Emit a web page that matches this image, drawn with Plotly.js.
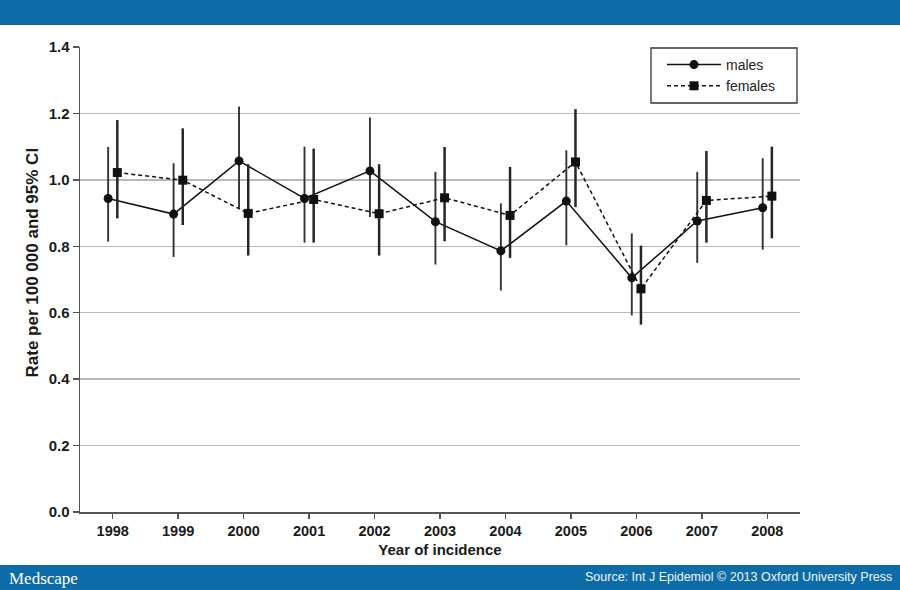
<!DOCTYPE html>
<html>
<head>
<meta charset="utf-8">
<script src="https://cdn.plot.ly/plotly-3.0.1.min.js"></script>
<style>
  html, body { margin: 0; padding: 0; background: #ffffff; }
  #chart { width: 900px; height: 590px; }
</style>
</head>
<body>
<div id="chart"></div>
<script>
// Incidence rate per 100 000 with 95% confidence limits, by year and sex
const years = [1998, 1999, 2000, 2001, 2002, 2003, 2004, 2005, 2006, 2007, 2008];

const maleRate = [0.944, 0.897, 1.057, 0.944, 1.027, 0.874, 0.786, 0.936, 0.705, 0.876, 0.916];
const maleLow  = [0.814, 0.768, 0.914, 0.811, 0.888, 0.745, 0.667, 0.803, 0.592, 0.750, 0.790];
const maleHigh = [1.099, 1.050, 1.221, 1.100, 1.188, 1.024, 0.929, 1.089, 0.839, 1.024, 1.065];

const femaleRate = [1.022, 0.999, 0.899, 0.941, 0.898, 0.946, 0.893, 1.054, 0.672, 0.938, 0.951];
const femaleLow  = [0.884, 0.864, 0.772, 0.811, 0.772, 0.815, 0.765, 0.918, 0.564, 0.811, 0.824];
const femaleHigh = [1.180, 1.155, 1.047, 1.094, 1.047, 1.099, 1.039, 1.213, 0.802, 1.087, 1.100];

const yTicks = [0, 0.2, 0.4, 0.6, 0.8, 1.0, 1.2, 1.4];

// Frame geometry (pixels) and helpers to turn page pixels into paper coordinates
const W = 900, H = 590;
const M = { l: 80, r: 100, t: 47, b: 78 };
const plotW = W - M.l - M.r, plotH = H - M.t - M.b;
const px = x => (x - M.l) / plotW;
const py = y => (H - M.b - y) / plotH;

// Males sit just left of each year, females just right, so the bars don't overlap
const nudge = 0.07;
const upper = (hi, v) => hi.map((h, i) => +(h - v[i]).toFixed(3));
const lower = (lo, v) => lo.map((l, i) => +(v[i] - l).toFixed(3));

const males = {
  type: 'scatter', mode: 'lines+markers', name: 'males',
  x: years.map(y => y - nudge), y: maleRate,
  line: { color: '#111111', width: 1.5 },
  marker: { symbol: 'circle', size: 9, color: '#111111' },
  error_y: {
    type: 'data', symmetric: false,
    array: upper(maleHigh, maleRate), arrayminus: lower(maleLow, maleRate),
    width: 0, thickness: 1.9, color: '#333333'
  }
};

const females = {
  type: 'scatter', mode: 'lines+markers', name: 'females',
  x: years.map(y => y + nudge), y: femaleRate,
  line: { color: '#111111', width: 1.5, dash: '4px,3px' },
  marker: { symbol: 'square', size: 9, color: '#111111' },
  error_y: {
    type: 'data', symmetric: false,
    array: upper(femaleHigh, femaleRate), arrayminus: lower(femaleLow, femaleRate),
    width: 0, thickness: 2.5, color: '#262626'
  }
};

const bannerBlue = '#0d6ca7';
const axisFont = { family: 'Liberation Sans, Arial, sans-serif', color: '#1a1a1a' };

// Legend frame, drawn as a box around the (borderless) legend entries
const legendBox = { left: 651, right: 797, top: 48, bottom: 103 };

const layout = {
  width: W, height: H,
  margin: M,
  paper_bgcolor: '#ffffff',
  plot_bgcolor: '#ffffff',
  showlegend: true,
  xaxis: {
    range: [1997.5, 2008.5],
    tickmode: 'array', tickvals: years, ticktext: years.map(String),
    showgrid: false, zeroline: false,
    showline: true, linecolor: '#555555', linewidth: 1.5,
    ticks: 'outside', ticklen: 5, tickwidth: 1.5, tickcolor: '#555555',
    tickfont: Object.assign({ size: 14.5, weight: 'bold' }, axisFont),
    title: { text: 'Year of incidence', standoff: 6,
             font: Object.assign({ size: 15, weight: 'bold' }, axisFont) }
  },
  yaxis: {
    range: [0, 1.4],
    tickmode: 'array', tickvals: yTicks, ticktext: yTicks.map(v => v.toFixed(1)),
    showgrid: true, gridcolor: '#b8b8b8', gridwidth: 1.5,
    zeroline: false,
    showline: true, linecolor: '#555555', linewidth: 1.5,
    ticks: 'outside', ticklen: 6, tickwidth: 1.5, tickcolor: '#555555',
    tickfont: Object.assign({ size: 15, weight: 'bold' }, axisFont)
  },
  legend: {
    x: px(legendBox.left + 11), y: py(legendBox.top + 1), xanchor: 'left', yanchor: 'top',
    borderwidth: 0, bgcolor: 'rgba(0,0,0,0)',
    font: { family: 'Liberation Sans, Arial, sans-serif', size: 14, color: '#222222' },
    itemwidth: 54, tracegroupgap: 4
  },
  shapes: [
    // top band
    { type: 'rect', xref: 'paper', yref: 'paper', x0: px(0), x1: px(W), y0: py(0), y1: py(24),
      fillcolor: bannerBlue, line: { width: 0 }, layer: 'below' },
    { type: 'line', xref: 'paper', yref: 'paper', x0: px(0), x1: px(W), y0: py(24.5), y1: py(24.5),
      line: { color: '#2a5f78', width: 1 } },
    // bottom band
    { type: 'rect', xref: 'paper', yref: 'paper', x0: px(0), x1: px(W), y0: py(565), y1: py(H),
      fillcolor: bannerBlue, line: { width: 0 }, layer: 'below' },
    // legend frame
    { type: 'rect', xref: 'paper', yref: 'paper',
      x0: px(legendBox.left), x1: px(legendBox.right), y0: py(legendBox.top), y1: py(legendBox.bottom),
      fillcolor: '#ffffff', line: { color: '#333333', width: 1.3 }, layer: 'above' }
  ],
  annotations: [
    { text: 'Rate per 100 000 and 95% CI', textangle: -90,
      xref: 'paper', yref: 'paper', x: px(31.5), y: py(263),
      xanchor: 'center', yanchor: 'middle', showarrow: false,
      font: Object.assign({ size: 17, weight: 'bold' }, axisFont) },
    { text: 'Medscape', xref: 'paper', yref: 'paper', x: px(7), y: py(578),
      xanchor: 'left', yanchor: 'middle', showarrow: false,
      font: { family: 'Liberation Serif, Times New Roman, serif', size: 17, color: '#ffffff' } },
    { text: 'Source: Int J Epidemiol © 2013 Oxford University Press',
      xref: 'paper', yref: 'paper', x: px(894), y: py(577),
      xanchor: 'right', yanchor: 'middle', showarrow: false,
      font: { family: 'Liberation Sans, Arial, sans-serif', size: 12.5, color: '#f2f6fa' } }
  ]
};

Plotly.newPlot('chart', [males, females], layout, { displayModeBar: false, staticPlot: true });
</script>
</body>
</html>
